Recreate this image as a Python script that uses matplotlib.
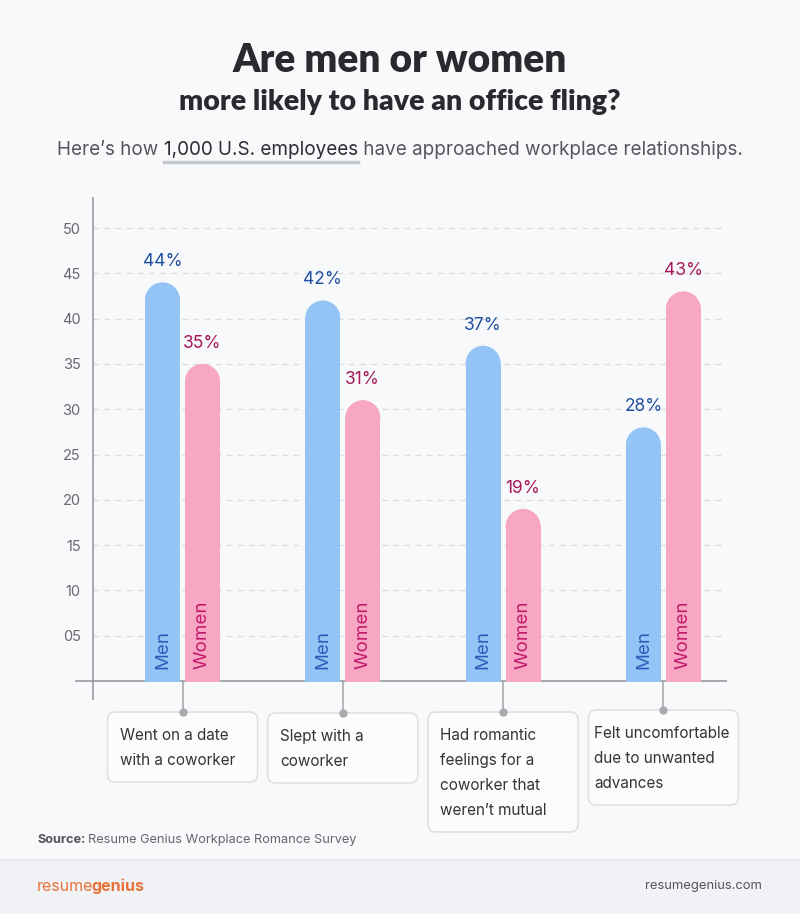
import matplotlib
matplotlib.use("Agg")
import matplotlib.pyplot as plt
from matplotlib.patches import Ellipse, FancyBboxPatch, Rectangle
from matplotlib.lines import Line2D

plt.rcParams['font.family'] = ['Inter', 'DejaVu Sans']

# --- data ---
categories = ["Went on a date\nwith a coworker",
              "Slept with a\ncoworker",
              "Had romantic\nfeelings for a\ncoworker that\nweren\u2019t mutual",
              "Felt uncomfortable\ndue to unwanted\nadvances"]
men = [44, 42, 37, 28]
women = [35, 31, 19, 43]
yticks = [5, 10, 15, 20, 25, 30, 35, 40, 45, 50]
ytick_labels = ["05", "10", "15", "20", "25", "30", "35", "40", "45", "50"]

W, H = 800, 914
BG = '#f8f9fb'
MEN_C, WOMEN_C = '#94c3f5', '#f7a6c3'
MEN_T, WOMEN_T = '#1f4f9e', '#a8175a'
MEN_IN, WOMEN_IN = '#2a5dbb', '#c3196a'

fig = plt.figure(figsize=(W / 100, H / 100), dpi=100, facecolor=BG)


def fx(px):
    return px / W


def fy(py):
    return 1 - py / H


# footer band
fig.patches.append(Rectangle((0, 0), 1, fy(860), transform=fig.transFigure,
                             facecolor='#f1f2f5', edgecolor='none', zorder=0))
fig.patches.append(Rectangle((0, fy(861)), 1, 1 / H * 2, transform=fig.transFigure,
                             facecolor='#e9eaee', edgecolor='none', zorder=0))

# titles
fig.text(0.5, fy(61), "Are men or women", ha='center', va='center',
         fontsize=28, fontweight='heavy', color='#2a2a2e', family=['Lato', 'DejaVu Sans'])
fig.text(0.5, fy(102), "more likely to have an office fling?", ha='center', va='center',
         fontsize=20.5, fontweight='heavy', color='#2a2a2e', family=['Lato', 'DejaVu Sans'])

# subtitle in three parts
parts = [("Here\u2019s how ", '#55565c'), ("1,000 U.S. employees", '#2b2c31'),
         (" have approached workplace relationships.", '#55565c')]
renderer = fig.canvas.get_renderer()
texts = []
for s, c in parts:
    t = fig.text(0, fy(150), s, ha='left', va='center', fontsize=13.6, color=c)
    texts.append(t)
widths = [t.get_window_extent(renderer).width for t in texts]
x0 = (W - sum(widths)) / 2
for t, w in zip(texts, widths):
    t.set_x(fx(x0))
    if t.get_text().startswith("1,000"):
        fig.lines.append(Line2D([fx(x0), fx(x0 + w)], [fy(162), fy(162)],
                                transform=fig.transFigure, color='#c6c9d2', lw=2.5))
    x0 += w

# --- chart axes: x unit = group index, 160.3 px per group ---
GX = 160.3
left_px, right_px, top_px, bot_px = 75, 727, 197, 700
ypx = 9.06  # pixels per percentage point
ax = fig.add_axes([fx(left_px), fy(bot_px), fx(right_px - left_px), (bot_px - top_px) / H])
ax.set_facecolor('none')
ax.set_zorder(2)
ax.set_xlim((left_px - 182.5) / GX, (right_px - 182.5) / GX)
ax.set_ylim(-(bot_px - 681) / ypx, (681 - top_px) / ypx)
for sp in ax.spines.values():
    sp.set_visible(False)
ax.set_xticks([])
ax.set_yticks(yticks)
ax.set_yticklabels(ytick_labels)
ax.tick_params(axis='y', length=0, pad=-4, labelsize=10.5, labelcolor='#67686e')

yaxis_x = (93 - 182.5) / GX
ax.hlines(yticks, yaxis_x, ax.get_xlim()[1], colors='#d9dbe0', linestyles=(0, (4, 4)), lw=1, zorder=1)
ax.axvline(yaxis_x, color='#9a9ba0', lw=1.2, zorder=2)
ax.axhline(0, color='#9a9ba0', lw=1.2, zorder=2)

bw = 35 / GX
off = 20 / GX
r_y = (35 / 2) / ypx  # cap radius in data units
for i in range(len(categories)):
    for val, dx, col, tcol, icol, name in [(men[i], -off, MEN_C, MEN_T, MEN_IN, "Men"),
                                           (women[i], off, WOMEN_C, WOMEN_T, WOMEN_IN, "Women")]:
        xc = i + dx
        ax.bar(xc, val - r_y + 0.1, width=bw, bottom=-0.1, color=col, zorder=3)
        ax.add_patch(Ellipse((xc, val - r_y), bw, 2 * r_y, facecolor=col,
                             edgecolor='none', zorder=3))
        ax.text(xc, val + 20.5 / ypx, f"{val}%", ha='center', va='center',
                fontsize=12.5, color=tcol, zorder=4)
        ax.text(xc, 1.3, name, rotation=90, ha='center', va='bottom',
                fontsize=13.5, color=icol, zorder=4)

# category boxes with connectors
box_tops = [712, 713, 712, 710]
box_heights = [70, 70, 120, 95]
text_insets = [12, 12, 12, 6]
for i, (lab, bt, bh, ti) in enumerate(zip(categories, box_tops, box_heights, text_insets)):
    cx = 182.5 + i * GX
    ax.plot([i, i], [0, -(bt - 681) / ypx], color='#a9aaaf', lw=1.2, clip_on=False, zorder=2)
    ax.plot([i], [-(bt - 681) / ypx], 'o', color='#a9aaaf', ms=5, clip_on=False, zorder=5)
    bx = FancyBboxPatch((fx(cx - 75 + 6), fy(bt + bh - 6)), fx(150 - 12), (bh - 12) / H,
                        boxstyle="round,pad=0,rounding_size=0.0075",
                        transform=fig.transFigure, facecolor='#fcfcfd',
                        edgecolor='#e0e1e5', lw=1.2, mutation_aspect=W / H)
    bx.set_boxstyle("round", pad=6 / W, rounding_size=8 / W)
    fig.patches.append(bx)
    fig.text(fx(cx - 75 + ti), fy(bt + 16), lab, ha='left', va='top',
             fontsize=11, color='#333438', linespacing=1.83)

# source
t = fig.text(fx(37), fy(840), "Source:", ha='left', va='center', fontsize=9.2,
             fontweight='bold', color='#55565c')
w = t.get_window_extent(renderer).width
fig.text(fx(37 + w + 3), fy(840), "Resume Genius Workplace Romance Survey", ha='left',
         va='center', fontsize=9.2, color='#66676d')

# footer logo: two weights placed back to back on one baseline
t = fig.text(fx(37), fy(891), "resume", ha='left', va='baseline', fontsize=11.5,
             color='#e8733a')
ext = t.get_window_extent(renderer)
fig.text(fx(ext.x1 - 2), fy(891), "genius", ha='left', va='baseline',
         fontsize=11.5, fontweight='bold', color='#e8733a')
fig.text(fx(762), fy(886), "resumegenius.com", ha='right', va='center', fontsize=9.4,
         color='#55565c')

fig.savefig("out.png", dpi=100, facecolor=BG)
